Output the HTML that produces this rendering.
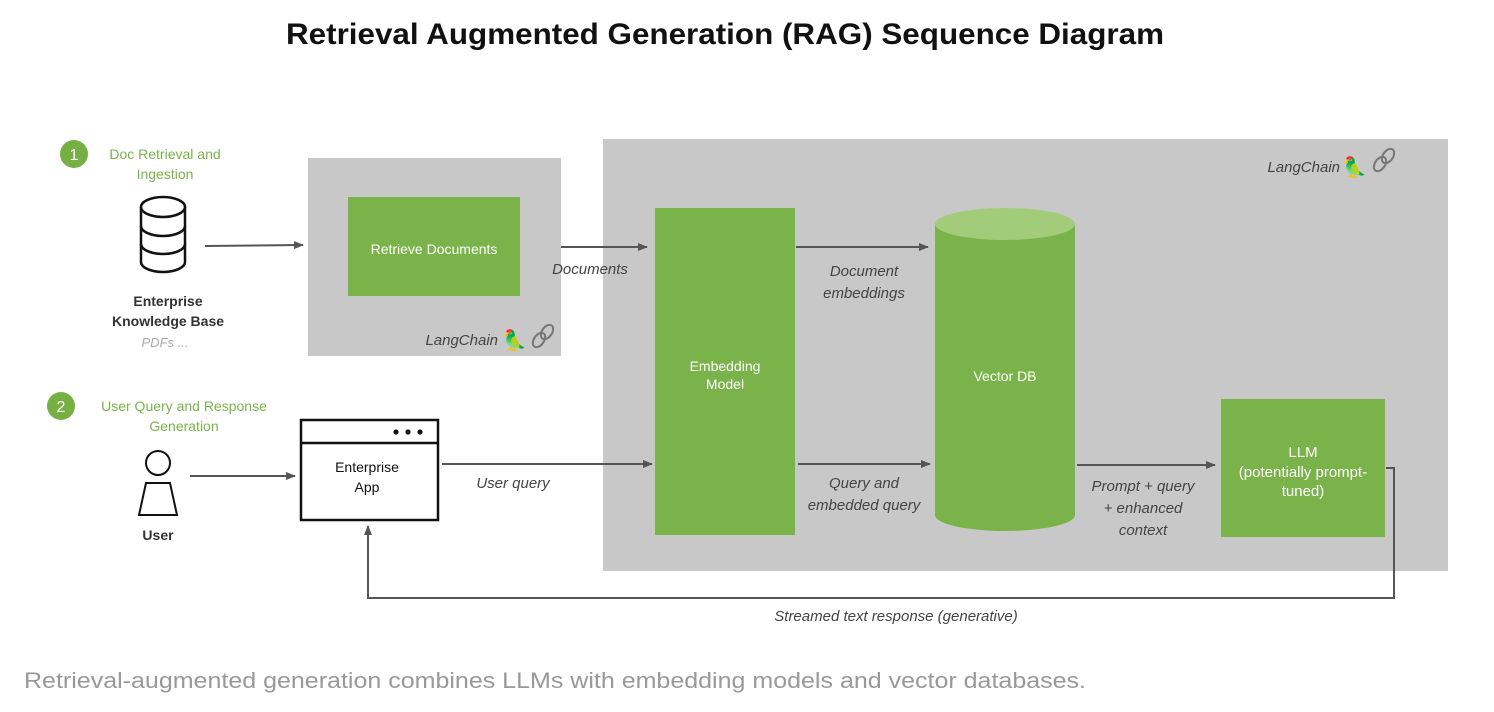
<!DOCTYPE html>
<html><head><meta charset="utf-8"><style>
html,body{margin:0;padding:0;background:#fff;}
svg{display:block;font-family:"Liberation Sans",sans-serif;}
</style></head><body>
<svg width="1494" height="712" viewBox="0 0 1494 712" xmlns="http://www.w3.org/2000/svg">
<defs><marker id="a" markerWidth="10" markerHeight="8" refX="9" refY="4" orient="auto" markerUnits="userSpaceOnUse"><path d="M0,0 L10,4 L0,8 z" fill="#555"/></marker></defs>
<text x="286" y="44" font-size="30" font-weight="bold" fill="#111" textLength="878" lengthAdjust="spacingAndGlyphs">Retrieval Augmented Generation (RAG) Sequence Diagram</text>
<rect x="603" y="139" width="845" height="432" fill="#c8c8c8"/>
<rect x="308" y="158" width="253" height="198" fill="#c8c8c8"/>
<rect x="348" y="197" width="172" height="99" fill="#7ab34a"/>
<text x="434" y="254" text-anchor="middle" font-size="14" fill="#fff">Retrieve Documents</text>
<text x="498" y="345" text-anchor="end" font-size="15" font-style="italic" fill="#444">LangChain</text>
<text x="502" y="347" font-size="20">🦜</text>
<g fill="none" stroke="#777" stroke-width="2"><ellipse cx="539" cy="340" rx="5" ry="8" transform="rotate(35 539 340)"/><ellipse cx="547" cy="332" rx="5" ry="8" transform="rotate(35 547 332)"/></g>
<text x="1340" y="172" text-anchor="end" font-size="15" font-style="italic" fill="#444">LangChain</text>
<text x="1342" y="174" font-size="20">🦜</text>
<g fill="none" stroke="#777" stroke-width="2"><ellipse cx="1380" cy="164" rx="5" ry="8" transform="rotate(35 1380 164)"/><ellipse cx="1388" cy="156" rx="5" ry="8" transform="rotate(35 1388 156)"/></g>
<rect x="655" y="208" width="140" height="327" fill="#7ab34a"/>
<text x="725" y="371" text-anchor="middle" font-size="14" fill="#fff">Embedding</text>
<text x="725" y="389" text-anchor="middle" font-size="14" fill="#fff">Model</text>
<path d="M935,224 L935,515 A70,16 0 0 0 1075,515 L1075,224 z" fill="#7ab34a"/>
<ellipse cx="1005" cy="224" rx="70" ry="16" fill="#a3cc7a"/>
<text x="1005" y="381" text-anchor="middle" font-size="14" fill="#fff">Vector DB</text>
<rect x="1221" y="399" width="164" height="138" fill="#7ab34a"/>
<text x="1303" y="457" text-anchor="middle" font-size="15" fill="#fff">LLM</text>
<text x="1303" y="477" text-anchor="middle" font-size="15" fill="#fff">(potentially prompt-</text>
<text x="1303" y="496" text-anchor="middle" font-size="15" fill="#fff">tuned)</text>
<circle cx="74" cy="154" r="14" fill="#76b043"/><text x="74" y="160" text-anchor="middle" font-size="16" fill="#fff">1</text>
<text x="165" y="159" text-anchor="middle" font-size="14" fill="#7ab34a">Doc Retrieval and</text>
<text x="165" y="179" text-anchor="middle" font-size="14" fill="#7ab34a">Ingestion</text>
<g fill="#fff" stroke="#111" stroke-width="2.5">
<path d="M141,207 L141,262 A22,10 0 0 0 185,262 L185,207"/>
<ellipse cx="163" cy="207" rx="22" ry="10"/>
<path d="M141,226 A22,10 0 0 0 185,226 M141,244 A22,10 0 0 0 185,244" fill="none"/>
</g>
<text x="168" y="306" text-anchor="middle" font-size="14" font-weight="bold" fill="#333">Enterprise</text>
<text x="168" y="326" text-anchor="middle" font-size="14" font-weight="bold" fill="#333">Knowledge Base</text>
<text x="165" y="347" text-anchor="middle" font-size="13" font-style="italic" fill="#aaa">PDFs ...</text>
<circle cx="61" cy="406" r="14" fill="#76b043"/><text x="61" y="412" text-anchor="middle" font-size="16" fill="#fff">2</text>
<text x="184" y="411" text-anchor="middle" font-size="14" fill="#7ab34a">User Query and Response</text>
<text x="184" y="431" text-anchor="middle" font-size="14" fill="#7ab34a">Generation</text>
<g fill="#fff" stroke="#111" stroke-width="2">
<circle cx="158" cy="463" r="12"/>
<path d="M146,483 L170,483 L177,515 L139,515 z"/>
</g>
<text x="158" y="540" text-anchor="middle" font-size="14" font-weight="bold" fill="#333">User</text>
<rect x="301" y="420" width="137" height="100" fill="#fff" stroke="#111" stroke-width="2.5"/>
<line x1="301" y1="443" x2="438" y2="443" stroke="#111" stroke-width="2.5"/>
<circle cx="396" cy="432" r="2.6" fill="#111"/><circle cx="408" cy="432" r="2.6" fill="#111"/><circle cx="420" cy="432" r="2.6" fill="#111"/>
<text x="367" y="472" text-anchor="middle" font-size="14" fill="#111">Enterprise</text>
<text x="367" y="492" text-anchor="middle" font-size="14" fill="#111">App</text>
<g stroke="#555" stroke-width="2" fill="none" marker-end="url(#a)">
<line x1="205" y1="246" x2="303" y2="245"/>
<line x1="561" y1="247" x2="647" y2="247"/>
<line x1="796" y1="247" x2="928" y2="247"/>
<line x1="190" y1="476" x2="295" y2="476"/>
<line x1="442" y1="464" x2="652" y2="464"/>
<line x1="798" y1="464" x2="930" y2="464"/>
<line x1="1077" y1="465" x2="1215" y2="465"/>
<path d="M1386,468 L1394,468 L1394,598 L368,598 L368,526"/>
</g>
<g font-size="15" font-style="italic" fill="#444" text-anchor="middle">
<text x="590" y="274">Documents</text>
<text x="864" y="276">Document</text><text x="864" y="298">embeddings</text>
<text x="513" y="488">User query</text>
<text x="864" y="488">Query and</text><text x="864" y="510">embedded query</text>
<text x="1143" y="491">Prompt + query</text><text x="1143" y="513">+ enhanced</text><text x="1143" y="535">context</text>
<text x="896" y="621">Streamed text response (generative)</text>
</g>
<text x="24" y="688" font-size="22" fill="#999" textLength="1062" lengthAdjust="spacingAndGlyphs">Retrieval-augmented generation combines LLMs with embedding models and vector databases.</text>
</svg>
</body></html>
